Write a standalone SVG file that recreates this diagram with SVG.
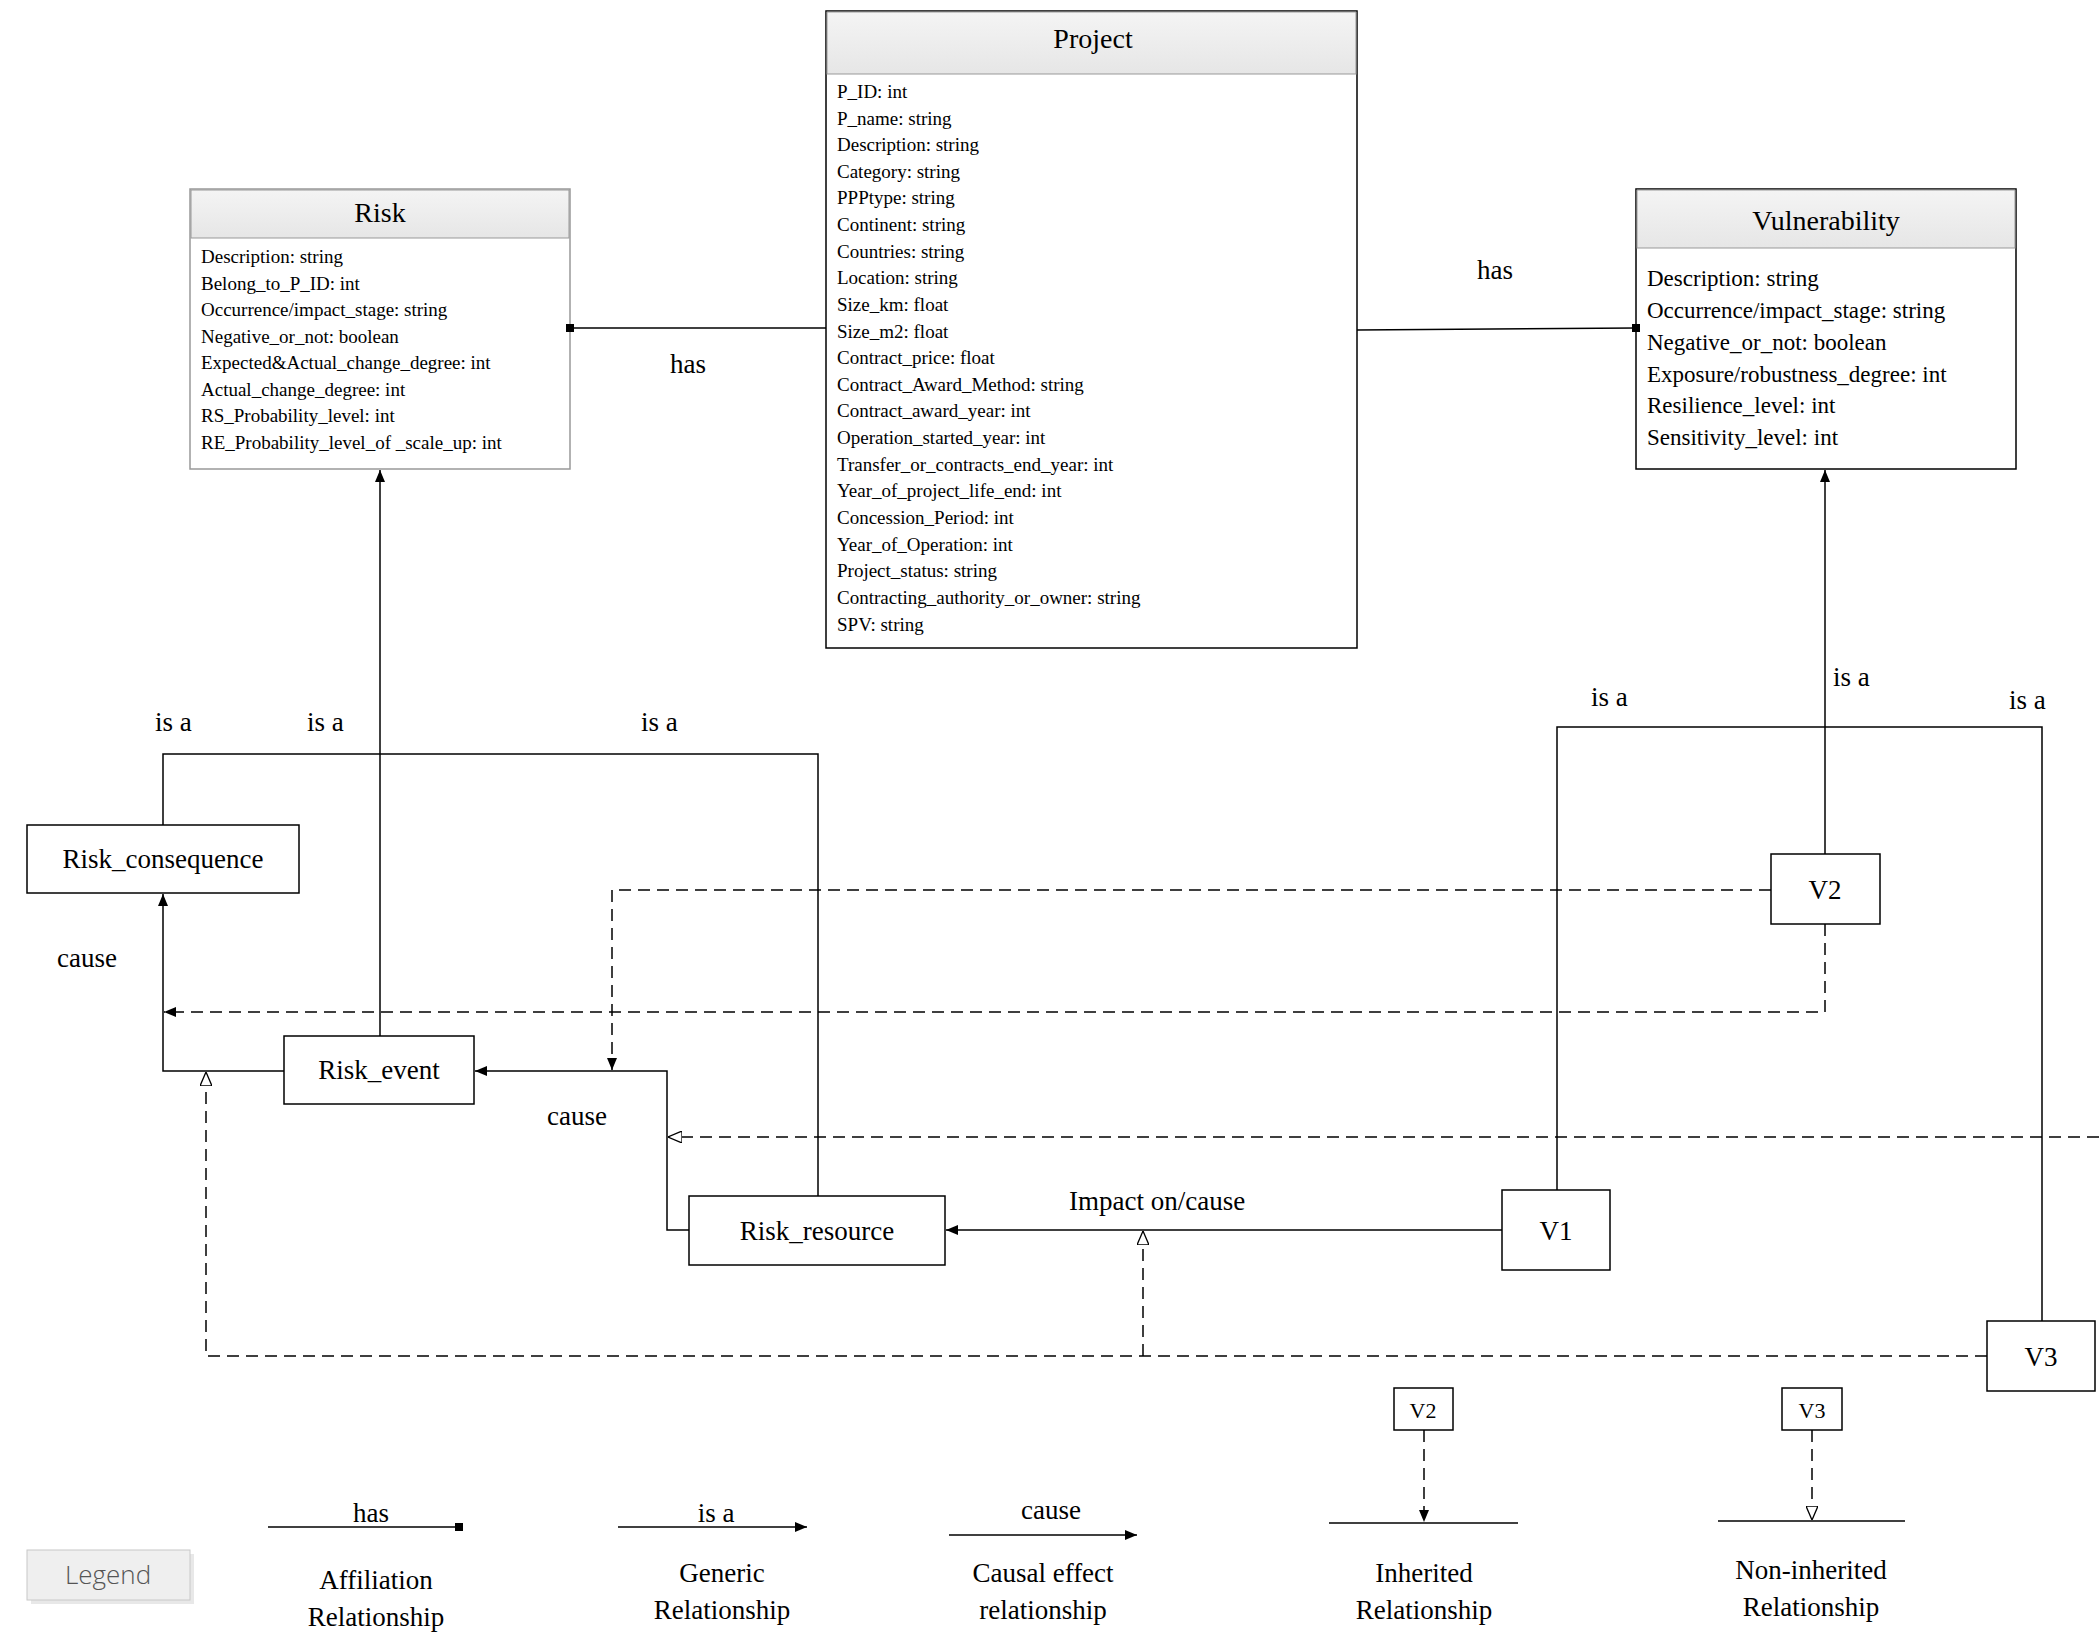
<svg xmlns="http://www.w3.org/2000/svg" width="2099" height="1650" viewBox="0 0 2099 1650">
<defs>
<linearGradient id="hg" x1="0" y1="0" x2="0" y2="1"><stop offset="0" stop-color="#f4f4f4"/><stop offset="1" stop-color="#e6e6e6"/></linearGradient>
<marker id="fa" markerWidth="12" markerHeight="10" refX="12" refY="5" orient="auto" markerUnits="userSpaceOnUse"><path d="M0,0 L12,5 L0,10 Z" fill="#000"/></marker>
<marker id="oa" markerWidth="14" markerHeight="12" refX="14" refY="6" orient="auto" markerUnits="userSpaceOnUse"><path d="M0,0 L14,6 L0,12 Z" fill="#fff" stroke="#000" stroke-width="1.3"/></marker>
<marker id="sq" markerWidth="8" markerHeight="8" refX="4" refY="4" orient="auto" markerUnits="userSpaceOnUse"><rect width="8" height="8" fill="#000"/></marker>
</defs>
<style>
text{font-family:"Liberation Serif","Times New Roman",serif;fill:#000}
.f{font-size:19px}
.v{font-size:23px}
.t{font-size:28px;text-anchor:middle}
.n{font-size:27px;text-anchor:middle}
.l{font-size:27px}
.c{font-size:27px;text-anchor:middle}
.box{fill:#fff;stroke:#000;stroke-width:1.5}
.hd{fill:url(#hg);stroke:#999;stroke-width:1}
.ln{fill:none;stroke:#000;stroke-width:1.5}
.ds{fill:none;stroke:#000;stroke-width:1.5;stroke-dasharray:12 7}
</style>
<rect width="2099" height="1650" fill="#fff"/>
<g id="project">
<rect class="box" x="826" y="11" width="531" height="637"/>
<rect class="hd" x="827" y="12" width="529" height="62"/>
<text class="t" x="1093" y="48">Project</text>
<text class="f" x="837" y="98">P_ID: int</text>
<text class="f" x="837" y="125">P_name: string</text>
<text class="f" x="837" y="151">Description: string</text>
<text class="f" x="837" y="178">Category: string</text>
<text class="f" x="837" y="204">PPPtype: string</text>
<text class="f" x="837" y="231">Continent: string</text>
<text class="f" x="837" y="258">Countries: string</text>
<text class="f" x="837" y="284">Location: string</text>
<text class="f" x="837" y="311">Size_km: float</text>
<text class="f" x="837" y="338">Size_m2: float</text>
<text class="f" x="837" y="364">Contract_price: float</text>
<text class="f" x="837" y="391">Contract_Award_Method: string</text>
<text class="f" x="837" y="417">Contract_award_year: int</text>
<text class="f" x="837" y="444">Operation_started_year: int</text>
<text class="f" x="837" y="471">Transfer_or_contracts_end_year: int</text>
<text class="f" x="837" y="497">Year_of_project_life_end: int</text>
<text class="f" x="837" y="524">Concession_Period: int</text>
<text class="f" x="837" y="551">Year_of_Operation: int</text>
<text class="f" x="837" y="577">Project_status: string</text>
<text class="f" x="837" y="604">Contracting_authority_or_owner: string</text>
<text class="f" x="837" y="631">SPV: string</text>
</g>
<g id="risk">
<rect class="box" x="190" y="189" width="380" height="280" style="stroke:#999"/>
<rect class="hd" x="191" y="190" width="378" height="48"/>
<text class="t" x="380" y="222">Risk</text>
<text class="f" x="201" y="263">Description: string</text>
<text class="f" x="201" y="290">Belong_to_P_ID: int</text>
<text class="f" x="201" y="316">Occurrence/impact_stage: string</text>
<text class="f" x="201" y="343">Negative_or_not: boolean</text>
<text class="f" x="201" y="369">Expected&amp;Actual_change_degree: int</text>
<text class="f" x="201" y="396">Actual_change_degree: int</text>
<text class="f" x="201" y="422">RS_Probability_level: int</text>
<text class="f" x="201" y="449">RE_Probability_level_of _scale_up: int</text>
</g>
<g id="vulnerability">
<rect class="box" x="1636" y="189" width="380" height="280"/>
<rect class="hd" x="1637" y="190" width="378" height="58"/>
<text class="t" x="1826" y="230">Vulnerability</text>
<text class="v" x="1647" y="286">Description: string</text>
<text class="v" x="1647" y="318">Occurrence/impact_stage: string</text>
<text class="v" x="1647" y="350">Negative_or_not: boolean</text>
<text class="v" x="1647" y="382">Exposure/robustness_degree: int</text>
<text class="v" x="1647" y="413">Resilience_level: int</text>
<text class="v" x="1647" y="445">Sensitivity_level: int</text>
</g>
<g id="risk_consequence"><rect class="box" x="27" y="825" width="272" height="68"/><text class="n" x="163" y="868">Risk_consequence</text></g>
<g id="risk_event"><rect class="box" x="284" y="1036" width="190" height="68"/><text class="n" x="379" y="1079">Risk_event</text></g>
<g id="risk_resource"><rect class="box" x="689" y="1196" width="256" height="69"/><text class="n" x="817" y="1240">Risk_resource</text></g>
<g id="v1"><rect class="box" x="1502" y="1190" width="108" height="80"/><text class="n" x="1556" y="1240">V1</text></g>
<g id="v2"><rect class="box" x="1771" y="854" width="109" height="70"/><text class="n" x="1825" y="899">V2</text></g>
<g id="v3"><rect class="box" x="1987" y="1321" width="108" height="70"/><text class="n" x="2041" y="1366">V3</text></g>
<g id="connectors">
<line class="ln" x1="826" y1="328" x2="570" y2="328" marker-end="url(#sq)"/>
<text class="l" x="670" y="373">has</text>
<line class="ln" x1="1357" y1="330" x2="1636" y2="328" marker-end="url(#sq)"/>
<text class="l" x="1477" y="279">has</text>
<line class="ln" x1="380" y1="1036" x2="380" y2="470" marker-end="url(#fa)"/>
<polyline class="ln" points="163,825 163,754 818,754 818,1196"/>
<text class="l" x="155" y="731">is a</text>
<text class="l" x="307" y="731">is a</text>
<text class="l" x="641" y="731">is a</text>
<line class="ln" x1="1825" y1="854" x2="1825" y2="470" marker-end="url(#fa)"/>
<polyline class="ln" points="1557,1190 1557,727 2042,727 2042,1321"/>
<text class="l" x="1591" y="706">is a</text>
<text class="l" x="1833" y="686">is a</text>
<text class="l" x="2009" y="709">is a</text>
<polyline class="ln" points="284,1071 163,1071 163,894" marker-end="url(#fa)"/>
<text class="l" x="57" y="967">cause</text>
<polyline class="ln" points="689,1230 667,1230 667,1071 475,1071" marker-end="url(#fa)"/>
<text class="l" x="547" y="1125">cause</text>
<line class="ln" x1="1502" y1="1230" x2="946" y2="1230" marker-end="url(#fa)"/>
<text class="l" x="1069" y="1210">Impact on/cause</text>
<polyline class="ds" points="1771,890 612,890 612,1070" marker-end="url(#fa)"/>
<polyline class="ds" points="1825,924 1825,1012 164,1012" marker-end="url(#fa)"/>
<line class="ds" x1="2099" y1="1137" x2="668" y2="1137" marker-end="url(#oa)"/>
<polyline class="ds" points="1987,1356 206,1356 206,1072" marker-end="url(#oa)"/>
<line class="ds" x1="1143" y1="1356" x2="1143" y2="1231" marker-end="url(#oa)"/>
</g>
<g id="legend">
<rect x="31" y="1554" width="163" height="50" fill="#d8d8d8" opacity="0.6"/>
<rect x="27" y="1550" width="163" height="50" fill="#efefef" stroke="#c8c8c8"/>
<text x="108" y="1584" style="font-family:'Open Sans',sans-serif;font-size:26px;font-weight:300;fill:#555;text-anchor:middle">Legend</text>
<line class="ln" x1="268" y1="1527" x2="459" y2="1527" marker-end="url(#sq)"/>
<text class="c" x="371" y="1522">has</text>
<text class="c" x="376" y="1589">Affiliation</text>
<text class="c" x="376" y="1626">Relationship</text>
<line class="ln" x1="618" y1="1527" x2="807" y2="1527" marker-end="url(#fa)"/>
<text class="c" x="716" y="1522">is a</text>
<text class="c" x="722" y="1582">Generic</text>
<text class="c" x="722" y="1619">Relationship</text>
<line class="ln" x1="949" y1="1535" x2="1137" y2="1535" marker-end="url(#fa)"/>
<text class="c" x="1051" y="1519">cause</text>
<text class="c" x="1043" y="1582">Causal effect</text>
<text class="c" x="1043" y="1619">relationship</text>
<rect class="box" x="1394" y="1388" width="59" height="42"/>
<text x="1423" y="1418" style="font-size:22px;text-anchor:middle">V2</text>
<line class="ds" x1="1424" y1="1430" x2="1424" y2="1522" marker-end="url(#fa)"/>
<line class="ln" x1="1329" y1="1523" x2="1518" y2="1523"/>
<text class="c" x="1424" y="1582">Inherited</text>
<text class="c" x="1424" y="1619">Relationship</text>
<rect class="box" x="1782" y="1388" width="60" height="42"/>
<text x="1812" y="1418" style="font-size:22px;text-anchor:middle">V3</text>
<line class="ds" x1="1812" y1="1430" x2="1812" y2="1520" marker-end="url(#oa)"/>
<line class="ln" x1="1718" y1="1521" x2="1905" y2="1521"/>
<text class="c" x="1811" y="1579">Non-inherited</text>
<text class="c" x="1811" y="1616">Relationship</text>
</g>
</svg>
